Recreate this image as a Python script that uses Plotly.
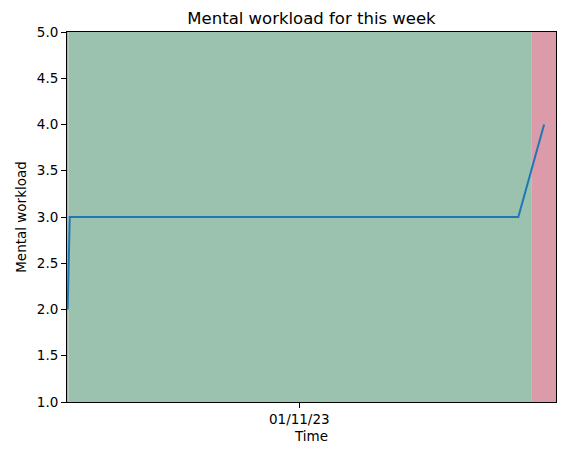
import plotly.graph_objects as go

# Data
times = ["2023-01-10 12:38", "2023-01-10 12:44", "2023-01-11 10:45", "2023-01-11 12:01"]
workload = [2.0, 3.0, 3.0, 4.0]

span_starts = ["2023-01-10 12:36", "2023-01-10 12:40", "2023-01-11 11:23"]
span_ends = ["2023-01-10 12:40", "2023-01-11 11:23", "2023-01-11 12:36"]
span_colors = ["#dc9ba8", "#9bc2ae", "#dc9ba8"]

x_range = ["2023-01-10 12:36", "2023-01-11 12:36"]
x_tickvals = ["2023-01-11 00:00"]
x_ticktext = ["01/11/23"]
y_tickvals = [1.0, 1.5, 2.0, 2.5, 3.0, 3.5, 4.0, 4.5, 5.0]

FONT = "DejaVu Sans"

fig = go.Figure()
fig.add_trace(go.Scatter(x=times, y=workload, mode="lines",
                         line=dict(color="#1f77b4", width=2), showlegend=False))

shapes = []
for s, e, c in zip(span_starts, span_ends, span_colors):
    shapes.append(dict(type="rect", xref="x", yref="paper", x0=s, x1=e, y0=0, y1=1,
                       fillcolor=c, line=dict(width=0), layer="below"))

fig.update_layout(
    width=567, height=455,
    margin=dict(l=53, r=19, t=24, b=61),
    paper_bgcolor="white", plot_bgcolor="white",
    shapes=shapes,
    font=dict(family=FONT, color="black", size=13.5),
    title=dict(text="Mental workload for this week", x=0.5, xref="paper",
               y=1 - 10 / 455, yref="container", xanchor="center", yanchor="middle",
               font=dict(family=FONT, size=16.5, color="black")),
    xaxis=dict(type="date", range=x_range, tickvals=x_tickvals, ticktext=x_ticktext,
               showgrid=False, zeroline=False, showline=True, linecolor="black", linewidth=1,
               mirror=True, ticks="outside", ticklen=5, tickcolor="black",
               tickfont=dict(size=13.5),
               title=dict(text="Time", standoff=5, font=dict(size=13.5))),
    yaxis=dict(range=[1.0, 5.0], tickvals=y_tickvals, tickformat=".1f",
               showgrid=False, zeroline=False, showline=True, linecolor="black", linewidth=1,
               mirror=True, ticks="outside", ticklen=5, tickcolor="black",
               tickfont=dict(size=13.5),
               title=dict(text="Mental workload", standoff=7, font=dict(size=13.5))),
)

fig.write_html("out.html")
